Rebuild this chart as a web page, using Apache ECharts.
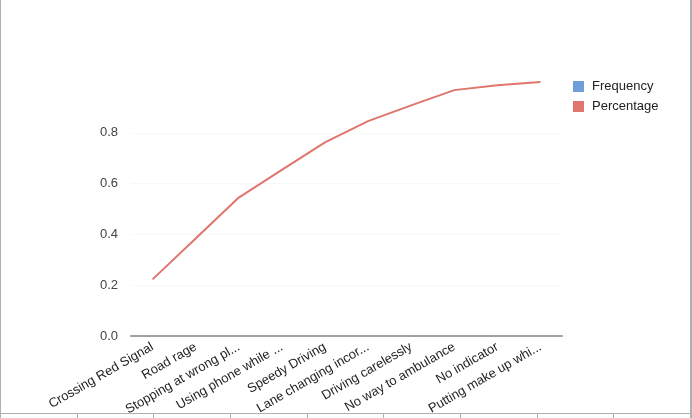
<!DOCTYPE html>
<html>
<head>
<meta charset="utf-8">
<script src="https://cdn.jsdelivr.net/npm/echarts@6/dist/echarts.min.js"></script>
<style>
  body { margin: 0; background: #fff; }
  #wrap { position: relative; width: 692px; height: 418px; overflow: hidden; }
  #chart { width: 692px; height: 418px; }
  .edge { position: absolute; background: #b0b0b0; }
</style>
</head>
<body>
<div id="wrap">
  <div id="chart"></div>
  <div class="edge" style="left:0;top:0;width:1px;height:418px;"></div>
  <div class="edge" style="left:690px;top:0;width:2px;height:418px;"></div>
  <div class="edge" style="left:0;top:413px;width:692px;height:1px;"></div>
  <div id="cells"></div>
</div>
<script>
  'use strict';

  // categories as they appear on the axis (cut by the source app)
  var causes = ['Crossing Red Signal', 'Road rage', 'Stopping at wrong pl...', 'Using phone while ...',
    'Speedy Driving', 'Lane changing incor...', 'Driving carelessly', 'No way to ambulance',
    'No indicator', 'Putting make up whi...'];

  // bars are not visible in the picture
  var frequency = [];

  // cumulative share
  var percentage = [0.223, 0.384, 0.545, 0.654, 0.762, 0.846, 0.908, 0.968, 0.987, 1.0];

  var yTicks = [0, 0.2, 0.4, 0.6, 0.8, 1.0];

  // spreadsheet cell lines under the chart
  var cells = document.getElementById('cells');
  [77, 153, 230, 307, 383, 460, 537, 613].forEach(function (x) {
    var d = document.createElement('div');
    d.className = 'edge';
    d.style.cssText = 'left:' + x + 'px;top:414px;width:1px;height:4px;';
    cells.appendChild(d);
  });

  var chart = echarts.init(document.getElementById('chart'));

  var option = {
    animation: false,
    color: ['#6f9fd8', '#e0756d'],
    textStyle: { fontFamily: 'Liberation Sans, Arial, sans-serif' },
    grid: { left: 131, right: 130, top: 82, bottom: 82, containLabel: false },
    legend: {
      orient: 'vertical',
      left: 573,
      top: 80,
      padding: 0,
      icon: 'rect',
      itemWidth: 11,
      itemHeight: 11,
      itemGap: 7,
      textStyle: { color: '#222', fontSize: 13, padding: [0, 0, 0, 3] },
      data: ['Frequency', 'Percentage']
    },
    xAxis: {
      type: 'category',
      data: causes,
      boundaryGap: true,
      axisLine: { lineStyle: { color: '#a0a0a0', width: 2 } },
      axisTick: { show: false },
      axisLabel: {
        rotate: 30,
        interval: 0,
        margin: 10,
        color: '#222',
        fontSize: 13
      }
    },
    yAxis: {
      type: 'value',
      min: yTicks[0],
      max: yTicks[yTicks.length - 1],
      interval: 0.2,
      axisLine: { show: false },
      axisTick: { show: false },
      axisLabel: {
        margin: 13,
        color: '#444',
        fontSize: 13,
        showMaxLabel: false,
        formatter: function (v) { return v.toFixed(1); }
      },
      splitLine: {
        lineStyle: { color: ['#f8f8f8', '#f8f8f8', '#f8f8f8', '#f8f8f8', '#f8f8f8', 'rgba(0,0,0,0)'] }
      }
    },
    series: [{
      name: 'Frequency',
      type: 'bar',
      data: frequency
    }, {
      name: 'Percentage',
      type: 'line',
      data: percentage,
      symbol: 'none',
      lineStyle: { width: 2 }
    }]
  };

  chart.setOption(option);
</script>
</body>
</html>
